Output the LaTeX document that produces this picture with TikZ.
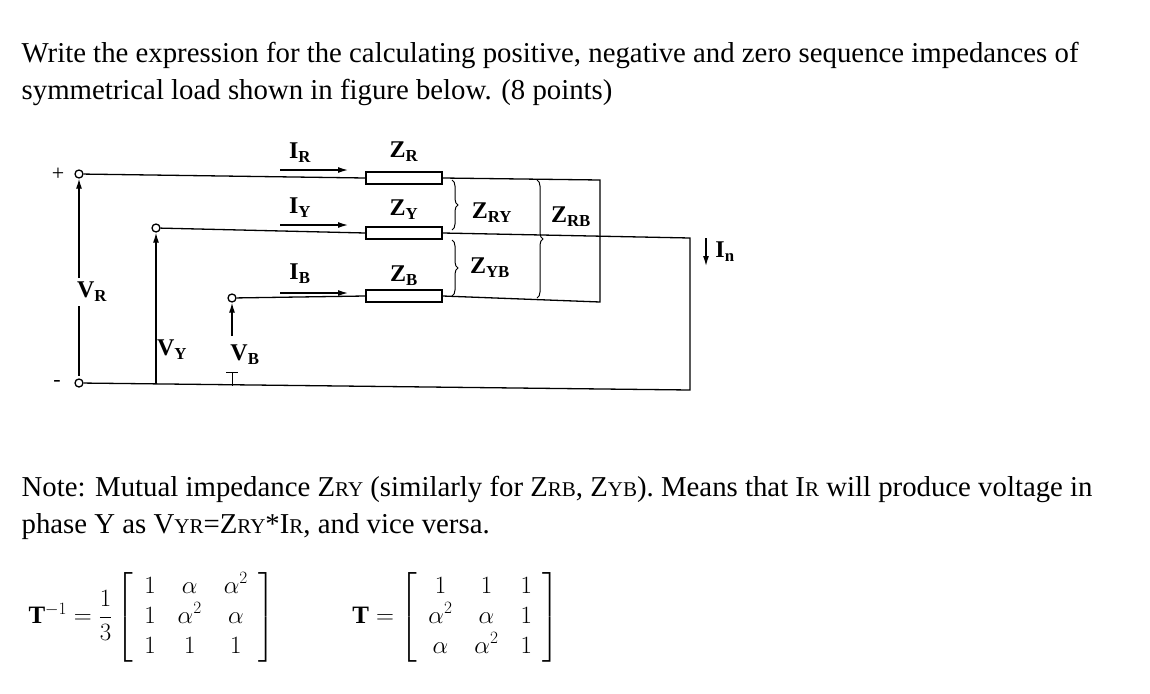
\documentclass[tikz,border=0pt]{standalone}
\usepackage{fontspec}
\setmainfont{Liberation Serif}
\usepackage{amsmath}
\usetikzlibrary{decorations.pathreplacing,arrows.meta}
\begin{document}
\begin{tikzpicture}[x=1pt,y=-1pt,line width=1.3pt,
  res/.style={draw,minimum width=76pt,minimum height=12pt,inner sep=0pt,line width=1.3pt},
  term/.style={circle,draw,fill=white,inner sep=0pt,minimum size=8pt,line width=1.3pt},
  lab/.style={font=\fontsize{24}{26}\selectfont\bfseries,inner sep=0pt},
  txt/.style={font=\fontsize{28.8}{37}\selectfont,anchor=north west,align=left,inner sep=0pt},
  mat/.style={font=\fontsize{25}{30}\selectfont,inner sep=0pt},
  brc/.style={decorate,decoration={brace,amplitude=6pt},line width=1pt},
  cur/.style={-{Latex[length=10pt,width=6pt]},line width=1.3pt}]
\useasboundingbox (0,0) rectangle (1150,693);
\node[txt] (q) at (21,42) {Write the expression for the calculating positive, negative and zero sequence impedances of\\symmetrical load shown in figure below. (8 points)};
% terminals
\node[term] (tR) at (79,174) {};
\node[term] (tY) at (156,228) {};
\node[term] (tB) at (232,298) {};
\node[term] (tN) at (79,383) {};
\node[res] (zR) at (404,178) {};
\node[res] (zY) at (404,233) {};
\node[res] (zB) at (404,296) {};
\coordinate (rt) at (600,180);
\coordinate (rb) at (600,302);
\coordinate (ny) at (690,238);
\coordinate (nb) at (690,390);
\draw (tR) -- (zR.west);
\draw (tY) -- (zY.west);
\draw (tB) -- (zB.west);
\draw (zR.east) -- (rt) -- (rb) -- (zB.east);
\draw (zY.east) -- (ny) -- (nb) -- (tN);
\node[font=\fontsize{22}{20}\selectfont] (plus) at (58,174) {+};
\node[font=\fontsize{22}{20}\selectfont] (minus) at (57,383) {-};
% voltages
\node[lab] (vR) at (92,292) {V\textsubscript{R}};
\coordinate (vRb) at (79,376);
\draw[cur] (79,278) -- (tR);
\draw (79,306) -- (vRb);
\node[lab] (vY) at (172,350) {V\textsubscript{Y}};
\draw[cur] (156,384) -- (tY);
\node[lab] (vB) at (245,355) {V\textsubscript{B}};
\draw[cur] (232,336) -- (tB);
\draw[line width=1pt] (232,372) -- (232,386) (226,372)--(238,372);
% currents
\node[lab] (iR) at (300,153) {I\textsubscript{R}};
\node[lab] (iY) at (300,208) {I\textsubscript{Y}};
\node[lab] (iB) at (300,274) {I\textsubscript{B}};
\draw[cur] (280,170) -- (348,170);
\draw[cur] (280,225) -- (348,225);
\draw[cur] (280,293) -- (348,293);
\node[lab] at (404,152) {Z\textsubscript{R}};
\node[lab] at (404,210) {Z\textsubscript{Y}};
\node[lab] at (404,276) {Z\textsubscript{B}};
% braces
\draw[brc] (452,180) -- (452,230);
\draw[brc] (452,240) -- (452,296);
\draw[brc] (537,180) -- (537,298);
\node[lab] at (492,213) {Z\textsubscript{RY}};
\node[lab] at (490,268) {Z\textsubscript{YB}};
\node[lab] at (571,217) {Z\textsubscript{RB}};
\draw[cur] (706,238) -- (706,266);
\node[lab] at (725,252) {I\textsubscript{n}};
% note
\node[txt] (note) at (21,476) {Note: Mutual impedance Z{\fontsize{21}{20}\selectfont RY} (similarly for Z{\fontsize{21}{20}\selectfont RB}, Z{\fontsize{21}{20}\selectfont YB}). Means that I{\fontsize{21}{20}\selectfont R} will produce voltage in\\phase Y as V{\fontsize{21}{20}\selectfont YR}=Z{\fontsize{21}{20}\selectfont RY}*I{\fontsize{21}{20}\selectfont R}, and vice versa.};
% matrices
\node[mat] (ti) at (152,617) {$\setlength{\arraycolsep}{11pt}\mathbf{T}^{-1}=\dfrac{1}{3}\left[\begin{array}{ccc}1&\alpha&\alpha^2\\1&\alpha^2&\alpha\\1&1&1\end{array}\right]$};
\node[mat] (t) at (456,617) {$\setlength{\arraycolsep}{11pt}\mathbf{T}=\left[\begin{array}{ccc}1&1&1\\\alpha^2&\alpha&1\\\alpha&\alpha^2&1\end{array}\right]$};
\end{tikzpicture}
\end{document}
